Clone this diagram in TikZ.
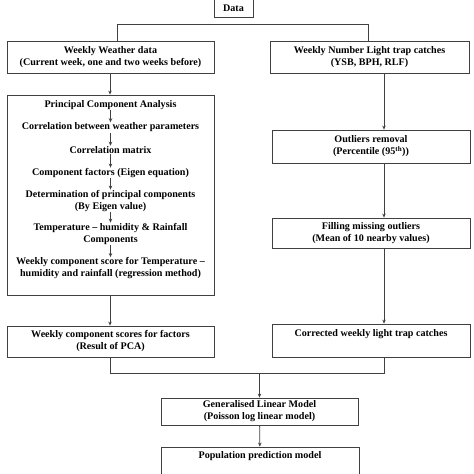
\documentclass[tikz,border=0pt]{standalone}
\usepackage{fontspec}
\setmainfont{Liberation Serif}
\usetikzlibrary{arrows.meta,calc}
\begin{document}
\begin{tikzpicture}[x=1pt,y=-1pt,
  line/.style={draw=black!75,line width=0.8pt},
  arr/.style={line,-{Stealth[length=4pt,width=3.5pt]}},
  box/.style={draw=black!75,line width=0.8pt,rectangle,inner sep=0pt,align=center,
    font=\fontsize{10.1}{12}\selectfont\bfseries},
  txt/.style={inner sep=0.5pt,align=center,font=\fontsize{10.1}{12}\selectfont\bfseries}]
\useasboundingbox (0,0) rectangle (474,474);
% boxes
\node[box,minimum width=39pt,minimum height=18pt] (data) at (233.5,8) {Data};
\node[box,minimum width=207pt,minimum height=32pt] (weather) at (110.5,57) {Weekly Weather data\\(Current week, one and two weeks before)};
\node[box,minimum width=199pt,minimum height=32pt] (light) at (369.5,57) {Weekly Number Light trap catches\\(YSB, BPH, RLF)};
\node[box,minimum width=207pt,minimum height=200pt] (pca) at (110.5,195) {};
\node[txt] (p1) at (110.5,105) {Principal Component Analysis};
\node[txt] (p2) at (110.5,127.5) {Correlation between weather parameters};
\node[txt] (p3) at (110.5,150) {Correlation matrix};
\node[txt] (p4) at (110.5,173) {Component factors (Eigen equation)};
\node[txt] (p5) at (110.5,201) {Determination of principal components\\(By Eigen value)};
\node[txt] (p6) at (110.5,234) {Temperature -- humidity \& Rainfall\\Components};
\node[txt] (p7) at (110.5,268.5) {Weekly component score for Temperature --\\humidity and rainfall (regression method)};
\node[box,minimum width=207pt,minimum height=31pt] (scores) at (110.5,341.5) {Weekly component scores for factors\\(Result of PCA)};
\node[box,minimum width=198pt,minimum height=33pt] (outl) at (371,146.5) {Outliers removal\\(Percentile (95\textsuperscript{th}))};
\node[box,minimum width=198pt,minimum height=30pt] (fill) at (371,233) {Filling missing outliers\\(Mean of 10 nearby values)};
\node[box,minimum width=198pt,minimum height=33pt] (corr) at (371,340.5) {Corrected weekly light trap catches\\\strut};
\node[box,minimum width=197pt,minimum height=27pt] (glm) at (259.5,411.5) {Generalised Linear Model\\(Poisson log linear model)};
\node[box,minimum width=198pt,minimum height=32pt] (pop) at (260,463) {Population prediction model\\\strut};
% coordinates
\coordinate (jl) at (117,24);
\coordinate (jr) at (368,24);
\coordinate (rx) at (384,0);
\coordinate (lx) at (110,0);
\coordinate (m) at (259.5,373);
% connectors
\draw[line] (jl) -- (jr);
\draw[line] (jl) -- (jl |- weather.north);
\draw[line] (jr) -- (jr |- light.north);
\draw[arr] (lx |- weather.south) -- (lx |- pca.north);
\draw[arr] (p1) -- (p2);
\draw[arr] (p2) -- (p3);
\draw[arr] (p3) -- (p4);
\draw[arr] (p4) -- (p5);
\draw[arr] (p5) -- (p6);
\draw[arr] (p6) -- (p7);
\draw[arr] (lx |- pca.south) -- (lx |- scores.north);
\draw[arr] (rx |- light.south) -- (rx |- outl.north);
\draw[arr] (rx |- outl.south) -- (rx |- fill.north);
\draw[arr] (rx |- fill.south) -- (rx |- corr.north);
\draw[line] (lx |- scores.south) -- (lx |- m) -- (rx |- m) -- (rx |- corr.south);
\draw[arr] (m) -- (glm.north);
\draw[arr] (glm) -- (pop);
\end{tikzpicture}
\end{document}
